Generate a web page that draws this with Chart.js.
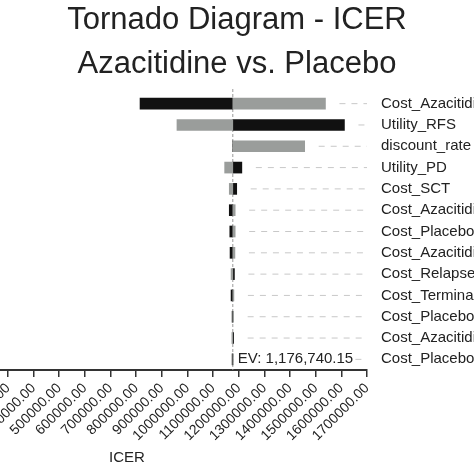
<!DOCTYPE html>
<html>
<head>
<meta charset="utf-8">
<script src="https://cdn.jsdelivr.net/npm/chart.js@4"></script>
<style>
  html, body { margin: 0; padding: 0; background: #fff; }
  #wrap { width: 474px; height: 474px; }
</style>
</head>
<body>
<div id="wrap"><canvas id="tornado"></canvas></div>
<script>
// ─── data ───
const params = ['Cost_Azacitidine', 'Utility_RFS', 'discount_rate', 'Utility_PD', 'Cost_SCT',
    'Cost_Azacitidine_AE', 'Cost_Placebo_AE', 'Cost_Azacitidine_Admin', 'Cost_Relapse',
    'Cost_Terminal', 'Cost_Placebo_Monitor', 'Cost_Azacitidine_Monitor', 'Cost_Placebo_Admin'];
const ev = 1176740.15;
const blackEnd = [815000, 1612000, 1176740, 1212000, 1192000, 1163000, 1165000, 1166000, 1183000, 1170000, 1174000, 1180000, 1174000];
const greyEnd  = [1538000, 959000, 1457000, 1145000, 1163000, 1186000, 1186000, 1185000, 1170000, 1181000, 1180000, 1173000, 1179000];
const tickValues = [300000, 400000, 500000, 600000, 700000, 800000, 900000, 1000000, 1100000,
    1200000, 1300000, 1400000, 1500000, 1600000, 1700000];

const FONT = 'Liberation Sans, Arial, sans-serif';

// ─── extras: titles, EV line, dashed leaders ───
const extras = {
    id: 'extras',
    beforeDatasetsDraw(chart) {
        const { ctx, scales: { x, y } } = chart;
        const area = chart.chartArea;
        ctx.save();
        ctx.strokeStyle = '#c8c8c8';
        ctx.lineWidth = 1;
        ctx.setLineDash([6, 6]);
        params.forEach((p, i) => {
            const end = Math.max(blackEnd[i], greyEnd[i], ev);
            const yy = y.getPixelForValue(i);
            ctx.beginPath();
            ctx.moveTo(x.getPixelForValue(end) + 14, yy);
            ctx.lineTo(area.right, yy);
            ctx.stroke();
        });
        // EV line
        ctx.strokeStyle = '#999';
        ctx.setLineDash([3, 2]);
        const ex = x.getPixelForValue(ev);
        ctx.beginPath();
        ctx.moveTo(ex, area.top - 4);
        ctx.lineTo(ex, area.bottom);
        ctx.stroke();
        ctx.restore();
    },
    afterDraw(chart) {
        const { ctx, scales: { x, y } } = chart;
        ctx.save();
        ctx.fillStyle = '#222';
        ctx.textAlign = 'center';
        ctx.textBaseline = 'middle';
        ctx.font = '31px ' + FONT;
        ctx.fillText('Tornado Diagram - ICER', 237, 20);
        ctx.fillText('Azacitidine vs. Placebo', 237, 64);
        ctx.font = '15px ' + FONT;
        ctx.fillText('ICER', 127, 458);
        ctx.textAlign = 'left';
        ctx.fillStyle = '#fff';
        const lx = x.getPixelForValue(ev) + 4, ly = y.getPixelForValue(params.length - 1);
        ctx.fillRect(lx, ly - 8, 116, 16);
        ctx.fillStyle = '#222';
        ctx.fillText('EV: 1,176,740.15', lx + 1, ly);
        ctx.restore();
    }
};

new Chart(document.getElementById('tornado'), {
    type: 'bar',
    data: {
        labels: params,
        datasets: [
            { label: 'low', data: greyEnd.map(v => [ev, v]), backgroundColor: '#9a9d9b', grouped: false, barThickness: 11 },
            { label: 'high', data: blackEnd.map(v => [ev, v]), backgroundColor: '#111', grouped: false, barThickness: 11 }
        ]
    },
    options: {
        indexAxis: 'y',
        responsive: true,
        maintainAspectRatio: false,
        animation: false,
        layout: { padding: { top: 93, left: 0, right: 0, bottom: 0 } },
        scales: {
            x: {
                type: 'linear',
                min: 269000,
                max: 1700000,
                afterBuildTicks: s => { s.ticks = tickValues.map(v => ({ value: v })); },
                afterFit: s => { s.height = 104; s.paddingLeft = 0; s.paddingRight = 0; },
                ticks: {
                    minRotation: 45, maxRotation: 45, autoSkip: false,
                    color: '#222', font: { family: FONT, size: 14 },
                    callback: v => Number(v).toFixed(2)
                },
                grid: { drawOnChartArea: false, color: '#333', tickLength: 7, lineWidth: 1.5 },
                border: { color: '#333', width: 2 }
            },
            y: {
                position: 'right',
                afterFit: s => { s.width = 107; },
                ticks: { color: '#222', font: { family: FONT, size: 15 }, padding: 6, autoSkip: false },
                grid: { display: false },
                border: { display: false }
            }
        },
        plugins: { legend: { display: false }, tooltip: { enabled: false } }
    },
    plugins: [extras]
});
</script>
</body>
</html>
